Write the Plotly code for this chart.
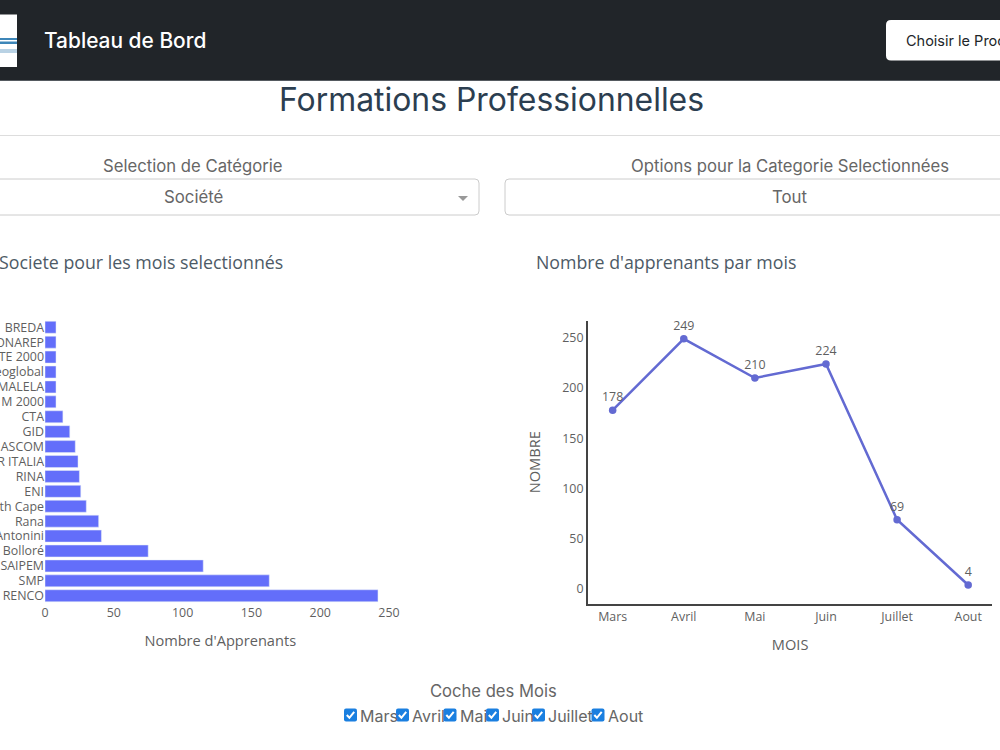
import plotly.graph_objects as go

societes = ["RENCO", "SMP", "SAIPEM", "Bolloré", "Antonini", "Rana", "South Cape", "ENI", "RINA", "SIR ITALIA",
            "ASCOM", "GID", "CTA", "M 2000", "MALELA", "Geoglobal", "TE 2000", "SONAREP", "BREDA"]
apprenants = [242, 163, 115, 75, 41, 39, 30, 26, 25, 24, 22, 18, 13, 8, 8, 8, 8, 8, 8]

mois = ["Mars", "Avril", "Mai", "Juin", "Juillet", "Aout"]
nombre = [178, 249, 210, 224, 69, 4]

W = 1000
H = 750
TEXT = "#5f5f5f"
LABEL = "#666666"


def fx(p):
    return p / W


def fy(p):
    return 1 - p / H


def rounded(x0, y0, x1, y1, r):
    return (f"M {fx(x0 + r)} {fy(y0)} L {fx(x1 - r)} {fy(y0)} Q {fx(x1)} {fy(y0)} {fx(x1)} {fy(y0 + r)} "
            f"L {fx(x1)} {fy(y1 - r)} Q {fx(x1)} {fy(y1)} {fx(x1 - r)} {fy(y1)} "
            f"L {fx(x0 + r)} {fy(y1)} Q {fx(x0)} {fy(y1)} {fx(x0)} {fy(y1 - r)} "
            f"L {fx(x0)} {fy(y0 + r)} Q {fx(x0)} {fy(y0)} {fx(x0 + r)} {fy(y0)} Z")


shapes = []


def box(x0, y0, x1, y1, fill, line="rgba(0,0,0,0)", width=0):
    shapes.append(dict(type="rect", xref="paper", yref="paper", x0=fx(x0), x1=fx(x1), y0=fy(y0), y1=fy(y1),
                       fillcolor=fill, line=dict(color=line, width=width), layer="below"))


def rbox(x0, y0, x1, y1, r, fill, line="rgba(0,0,0,0)", width=0):
    shapes.append(dict(type="path", xref="paper", yref="paper", path=rounded(x0, y0, x1, y1, r),
                       fillcolor=fill, line=dict(color=line, width=width), layer="below"))


annotations = []


def label(x, y, text, size, color=LABEL, family="Inter", anchor="center", weight=None):
    annotations.append(dict(xref="paper", yref="paper", x=fx(x), y=fy(y), text=text, showarrow=False,
                            xanchor=anchor, yanchor="middle",
                            font=dict(family=family, size=size, color=color, weight=weight)))


# header
box(0, 0, 1000, 80, "#212529")
box(0, 80, 1000, 81, "#555a60")
box(0, 14.5, 17, 67, "#ffffff")
box(0, 38, 17, 40, "#3d86b8")
box(0, 41.5, 17, 44, "#3d86b8")
box(0, 49, 17, 53, "#b9d2e4")
rbox(886, 20, 1010, 60.5, 5, "#ffffff")
label(42, 40.5, "Tableau de Bord", 20.9, "#ffffff", weight=500, anchor="left")
label(904, 41, "Choisir le Produit", 14.5, "#212529", anchor="left")

# title and dropdowns
label(491.5, 100, "Formations Professionnelles", 31.9, "#2c3e50")
box(0, 135, 1000, 136, "#dddddd")
label(193, 166, "Selection de Catégorie", 16.7)
label(790, 166, "Options pour la Categorie Selectionnées", 16.7)
rbox(-8, 179, 479, 215, 4, "#ffffff", "#cccccc", 1)
rbox(505, 179, 1010, 215, 4, "#ffffff", "#cccccc", 1)
label(193, 197.5, "Société", 16.8)
label(790, 197.5, "Tout", 16.8)
shapes.append(dict(type="path", xref="paper", yref="paper", fillcolor="#999999", line=dict(width=0),
                   path=f"M {fx(458)} {fy(196)} L {fx(468)} {fy(196)} L {fx(463)} {fy(201)} Z"))

# chart titles
label(-3, 262, "Societe pour les mois selectionnés", 17.8, "#4d5a66", "Open Sans", "left")
label(533.5, 262, "Nombre d'apprenants par mois", 17.75, "#4d5a66", "Open Sans", "left")

# month checkboxes
label(493, 691, "Coche des Mois", 16.6)
check_x = [344, 396, 443.5, 486, 532, 591.5]
text_x = [357.5, 410, 457.5, 500, 546, 606]
for cx, tx, m in zip(check_x, text_x, mois):
    rbox(cx, 708.5, cx + 13, 721.5, 2, "#1a7fe0")
    shapes.append(dict(type="path", xref="paper", yref="paper", line=dict(color="#ffffff", width=2),
                       path=f"M {fx(cx + 2.8)} {fy(715)} L {fx(cx + 5.4)} {fy(717.8)} L {fx(cx + 10.2)} {fy(711.8)}"))
    label(tx, 715.5, m, 16, anchor="left")

fig = go.Figure()
fig.add_trace(go.Bar(x=apprenants, y=societes, orientation="h", marker=dict(color="#636efa", line=dict(color="#e5ecf6", width=0.5)),
                     xaxis="x", yaxis="y", showlegend=False))
fig.add_trace(go.Scatter(x=mois, y=nombre, mode="lines+markers+text", text=nombre, textposition="top center",
                         textfont=dict(family="Open Sans", size=12.4, color=TEXT),
                         line=dict(color="#636ad2", width=2.5), marker=dict(color="#636ad2", size=7.5),
                         xaxis="x2", yaxis="y2", showlegend=False))

tick_font = dict(family="Open Sans", size=12.4, color=TEXT)
title_font = dict(family="Open Sans", size=14.6, color=TEXT)

fig.update_layout(
    width=W, height=H, margin=dict(l=0, r=0, t=0, b=0, autoexpand=False), autosize=False,
    paper_bgcolor="#ffffff", plot_bgcolor="#ffffff",
    shapes=shapes, annotations=annotations,
    bargap=0.2,
    xaxis=dict(domain=[fx(45), fx(395.5)], anchor="y", showgrid=False, zeroline=False, tickfont=tick_font,
               automargin=False, tickvals=[0, 50, 100, 150, 200, 250],
               title=dict(text="Nombre d'Apprenants", font=title_font, standoff=16)),
    yaxis=dict(domain=[fy(603.2), fy(319.8)], anchor="x", showgrid=False, zeroline=False, tickfont=tick_font,
               automargin=False, type="category", tickmode="linear", dtick=1),
    xaxis2=dict(domain=[fx(588), fx(992.3)], anchor="y2", showgrid=False, zeroline=False, tickfont=tick_font,
                automargin=False, range=[-0.347, 5.339], showline=True, linecolor="#444", linewidth=2,
                title=dict(text="MOIS", font=title_font, standoff=16)),
    yaxis2=dict(domain=[fy(603.7), fy(320.7)], anchor="x2", showgrid=False, zeroline=False, tickfont=tick_font,
                automargin=False, range=[-14.6, 267], showline=True, linecolor="#444", linewidth=2,
                tickvals=[0, 50, 100, 150, 200, 250],
                title=dict(text="NOMBRE", font=title_font, standoff=18)),
)

fig.write_html("out.html", config={"displayModeBar": False},
               post_script="document.body.style.margin='0';document.body.style.overflow='hidden';")
